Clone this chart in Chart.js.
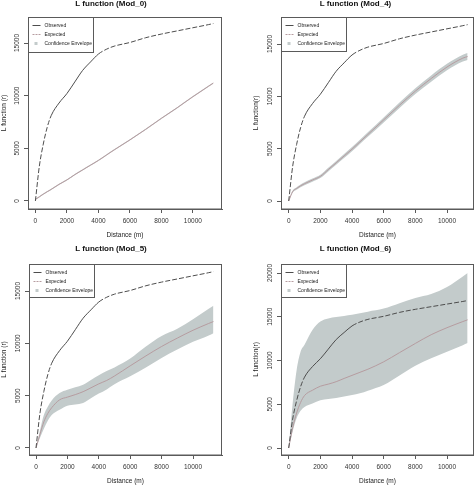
<!DOCTYPE html>
<html>
<head>
<meta charset="utf-8">
<script src="https://cdn.jsdelivr.net/npm/chart.js@4.4.1/dist/chart.umd.min.js"></script>
<style>
  body { margin: 0; background: #fff; }
  #lienzo { position: relative; width: 474px; height: 486px; overflow: hidden; }
  canvas { position: absolute; }
</style>
</head>
<body>
<div id="lienzo">
  <canvas id="g0" width="237" height="243" style="left:0;top:0"></canvas>
  <canvas id="g1" width="237" height="243" style="left:237px;top:0"></canvas>
  <canvas id="g2" width="237" height="243" style="left:0;top:243px"></canvas>
  <canvas id="g3" width="237" height="243" style="left:237px;top:243px"></canvas>
</div>
<script>
// datos (distancia en m)
const distancia = [0, 250, 500, 750, 1000, 1500, 2000, 2500, 3000, 3500, 4000, 4500, 5000, 6000, 7000, 8000, 9000, 10000, 11000, 11300]
const observado = [0, 3300, 5400, 7000, 8100, 9300, 10200, 11300, 12400, 13200, 13950, 14400, 14700, 15050, 15500, 15850, 16150, 16450, 16750, 16850]

const esperadoMod0 = [150, 400, 650, 880, 1100, 1580, 2000, 2500, 2950, 3400, 3850, 4350, 4850, 5800, 6800, 7850, 8850, 9900, 10900, 11200]
const superiorMod0 = [200, 460, 710, 940, 1160, 1640, 2060, 2560, 3010, 3460, 3910, 4410, 4910, 5860, 6860, 7910, 8910, 9960, 10960, 11260]
const inferiorMod0 = [100, 340, 590, 820, 1040, 1520, 1940, 2440, 2890, 3340, 3790, 4290, 4790, 5740, 6740, 7790, 8790, 9840, 10840, 11140]

const esperadoMod4 = [0, 900, 1200, 1450, 1650, 2000, 2350, 3000, 3650, 4300, 4950, 5650, 6350, 7750, 9150, 10500, 11700, 12800, 13650, 13800]
const superiorMod4 = [0, 1000, 1320, 1580, 1790, 2150, 2510, 3170, 3830, 4490, 5150, 5860, 6570, 7990, 9410, 10780, 12000, 13110, 13980, 14130]
const inferiorMod4 = [0, 800, 1080, 1320, 1510, 1850, 2190, 2830, 3470, 4110, 4750, 5440, 6130, 7510, 8890, 10220, 11400, 12490, 13320, 13470]

const esperadoMod5 = [0, 1300, 2500, 3300, 3850, 4600, 4860, 5100, 5380, 5750, 6130, 6450, 6880, 7850, 8800, 9700, 10500, 11250, 11900, 12080]
const superiorMod5 = [0, 1650, 3150, 3950, 4550, 5250, 5560, 5800, 6040, 6500, 6950, 7350, 7700, 8550, 9700, 10700, 11400, 12300, 13300, 13600]
const inferiorMod5 = [0, 950, 1850, 2600, 3150, 3650, 4040, 4150, 4290, 4750, 5200, 5600, 6100, 6850, 7700, 8600, 9400, 10150, 10750, 10970]

const esperadoMod6 = [0, 2300, 4000, 5200, 6000, 6600, 7060, 7300, 7580, 7950, 8300, 8650, 9000, 9850, 10900, 11950, 12950, 13750, 14450, 14650]
const superiorMod6 = [0, 5100, 8900, 11000, 11800, 13500, 14450, 14800, 14970, 15100, 15230, 15400, 15580, 15930, 16550, 17150, 17600, 18400, 19600, 20000]
const inferiorMod6 = [0, 1900, 3400, 4250, 4700, 5100, 5460, 5600, 5710, 5900, 6050, 6250, 6550, 7200, 8300, 9400, 10250, 11000, 11750, 12000]

const ticksX = [0, 2000, 4000, 6000, 8000, 10000]
const ticksY = [0, 5000, 10000, 15000]
const ticksYMod6 = [0, 5000, 10000, 15000, 20000]
const etiquetas = ["Observed", "Expected", "Confidence Envelope"]

const colorObs = "#4d4d4d"
const colorEsp = "#b69ca0"
const colorEnv = "#c3cbcb"
const colorEje = "#5a5a5a"
const fuente = '"Liberation Sans", Arial, sans-serif'

const puntos = (arr) => distancia.map((d, i) => ({x: d, y: arr[i]}))

// caja, etiquetas y rotadas (estilo R) y leyenda con borde
const estiloR = {
  id: "estiloR",
  afterDraw(chart, args, opts) {
    const {ctx, chartArea: a} = chart
    ctx.save()
    ctx.strokeStyle = colorEje
    ctx.lineWidth = 1
    ctx.strokeRect(Math.round(a.left) + 0.5, Math.round(a.top) + 0.5, Math.round(a.right - a.left) - 1, Math.round(a.bottom - a.top) - 0.5)

    const y = chart.scales.y
    ctx.fillStyle = "#333"
    ctx.font = `6.5px ${fuente}`
    ctx.textAlign = "center"
    ctx.textBaseline = "middle"
    opts.ticksY.forEach(v => {
      ctx.save()
      ctx.translate(a.left - 10.5, y.getPixelForValue(v))
      ctx.rotate(-Math.PI / 2)
      ctx.fillText(String(v), 0, 0)
      ctx.restore()
    })

    // leyenda
    const lx = Math.round(a.left) + 0.5, ly = Math.round(a.top) + 0.5
    ctx.fillStyle = "#fff"
    ctx.fillRect(lx, ly, 65, opts.altoLeyenda)
    ctx.strokeStyle = colorEje
    ctx.strokeRect(lx, ly, 65, opts.altoLeyenda)
    ctx.textAlign = "left"
    ctx.font = `5px ${fuente}`
    etiquetas.forEach((txt, i) => {
      const fy = ly + 8 + i * 9
      if (i === 0 || i === 1) {
        ctx.strokeStyle = i === 0 ? colorObs : colorEsp
        ctx.setLineDash(i === 0 ? [] : [2, 1])
        ctx.beginPath()
        ctx.moveTo(lx + 4, fy)
        ctx.lineTo(lx + 12, fy)
        ctx.stroke()
        ctx.setLineDash([])
      } else {
        ctx.fillStyle = colorEnv
        ctx.fillRect(lx + 6, fy - 1.5, 3, 3)
      }
      ctx.fillStyle = "#222"
      ctx.fillText(txt, lx + 16, fy)
    })
    ctx.restore()
  }
}

const crearPanel = (id, p) => {
  new Chart(document.getElementById(id), {
    type: "line",
    data: {
      datasets: [
        {
          label: etiquetas[0],
          data: puntos(observado),
          borderColor: colorObs,
          borderWidth: 1,
          pointRadius: 0,
          cubicInterpolationMode: "monotone",
          segment: {
            borderDash: ctx => (ctx.p0.parsed.x < 1000 || ctx.p0.parsed.x >= 4000) ? [5, 2] : undefined
          }
        },
        {
          label: etiquetas[1],
          data: puntos(p.esperado),
          borderColor: colorEsp,
          borderWidth: 1,
          pointRadius: 0,
          cubicInterpolationMode: "monotone"
        },
        {
          label: etiquetas[2],
          data: puntos(p.superior),
          borderWidth: 0,
          pointRadius: 0,
          backgroundColor: colorEnv,
          fill: "+1",
          cubicInterpolationMode: "monotone"
        },
        {
          label: "lower",
          data: puntos(p.inferior),
          borderWidth: 0,
          pointRadius: 0,
          fill: false,
          cubicInterpolationMode: "monotone"
        }
      ]
    },
    options: {
      responsive: false,
      animation: false,
      events: [],
      layout: {padding: {left: 0, top: 0, bottom: 0, right: p.derecha}},
      scales: {
        x: {
          type: "linear",
          min: p.xMin,
          max: p.xMax,
          afterBuildTicks: s => { s.ticks = ticksX.map(v => ({value: v})) },
          afterFit: s => { s.height = p.altoX },
          grid: {drawOnChartArea: false, tickLength: 4, color: colorEje},
          border: {display: true, color: colorEje},
          ticks: {font: {family: fuente, size: 6.5}, color: "#333", padding: 4, maxRotation: 0, autoSkip: false, callback: v => String(v)},
          title: {display: true, text: "Distance (m)", color: "#222", font: {family: fuente, size: 6.5}, padding: {top: 0, bottom: p.padTituloX}}
        },
        y: {
          type: "linear",
          min: p.yMin,
          max: p.yMax,
          afterBuildTicks: s => { s.ticks = p.ticksY.map(v => ({value: v})) },
          afterFit: s => { s.width = p.anchoY },
          grid: {drawOnChartArea: false, tickLength: 4, color: colorEje},
          border: {display: true, color: colorEje},
          ticks: {display: false},
          title: {display: true, text: p.tituloY, color: "#222", font: {family: fuente, size: 6.5}, padding: {top: p.padTituloY, bottom: 0}}
        }
      },
      plugins: {
        legend: {display: false},
        tooltip: {enabled: false},
        title: {
          display: true,
          text: p.titulo,
          color: "#111",
          font: {family: fuente, size: 8, weight: "bold", lineHeight: 1},
          padding: p.padTitulo
        },
        estiloR: {ticksY: p.ticksY, altoLeyenda: p.altoLeyenda}
      }
    },
    plugins: [estiloR]
  })
}

crearPanel("g0", {
  titulo: "L function (Mod_0)", tituloY: "L function (r)",
  esperado: esperadoMod0, superior: superiorMod0, inferior: inferiorMod0,
  ticksY: ticksY, xMin: -470, xMax: 11850, yMin: -760, yMax: 17470,
  anchoY: 28, altoX: 34, derecha: 15, padTituloY: 0, padTituloX: 4,
  padTitulo: {top: 0, bottom: 9}, altoLeyenda: 35
})
crearPanel("g1", {
  titulo: "L function (Mod_4)", tituloY: "L function(r)",
  esperado: esperadoMod4, superior: superiorMod4, inferior: inferiorMod4,
  ticksY: ticksY, xMin: -486, xMax: 11705, yMin: -764, yMax: 17580,
  anchoY: 44, altoX: 34, derecha: 0, padTituloY: 15, padTituloX: 4,
  padTitulo: {top: 0, bottom: 9}, altoLeyenda: 34
})
crearPanel("g2", {
  titulo: "L function (Mod_5)", tituloY: "L function (r)",
  esperado: esperadoMod5, superior: superiorMod5, inferior: inferiorMod5,
  ticksY: ticksY, xMin: -446, xMax: 11847, yMin: -669, yMax: 17580,
  anchoY: 29, altoX: 31, derecha: 15, padTituloY: 0, padTituloX: 1,
  padTitulo: {top: 2, bottom: 11}, altoLeyenda: 33
})
crearPanel("g3", {
  titulo: "L function (Mod_6)", tituloY: "L function(r)",
  esperado: esperadoMod6, superior: superiorMod6, inferior: inferiorMod6,
  ticksY: ticksYMod6, xMin: -486, xMax: 11705, yMin: -800, yMax: 21030,
  anchoY: 44, altoX: 31, derecha: 0, padTituloY: 15, padTituloX: 1,
  padTitulo: {top: 2, bottom: 11}, altoLeyenda: 33
})
</script>
</body>
</html>
